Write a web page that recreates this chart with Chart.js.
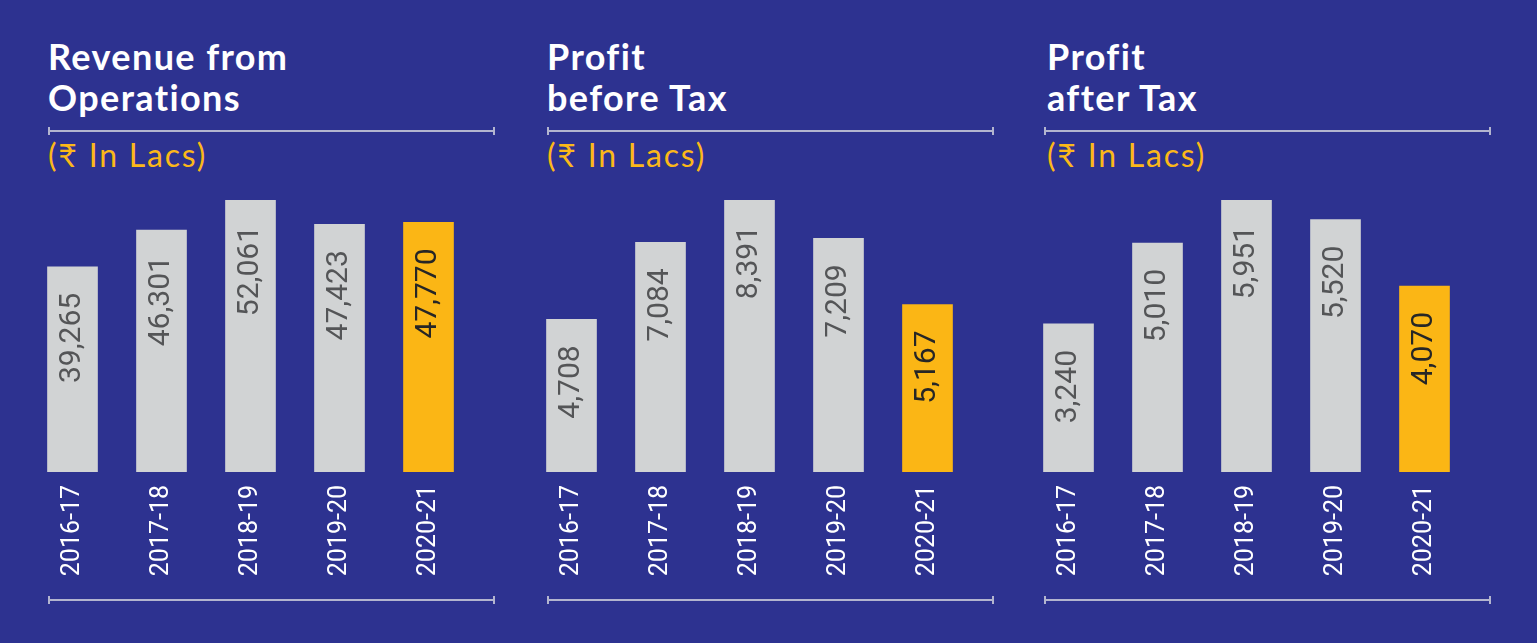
<!DOCTYPE html>
<html>
<head>
<meta charset="utf-8">
<script src="https://cdn.jsdelivr.net/npm/chart.js@4.4.1/dist/chart.umd.min.js"></script>
<style>
    html, body {
        margin: 0;
        padding: 0;
        background: #2d3290;
        width: 1537px;
        height: 643px;
        overflow: hidden;
    }
    .panel {
        position: absolute;
        top: 0;
        width: 499px;
        height: 643px;
    }
    .title {
        position: absolute;
        left: 48px;
        top: 36px;
        color: #fff;
        font-family: Lato, "DejaVu Sans", sans-serif;
        font-weight: bold;
        font-size: 36px;
        line-height: 41px;
        letter-spacing: 1.4px;
        white-space: nowrap;
    }
    .unit {
        position: absolute;
        left: 48px;
        top: 135px;
        color: #fbb819;
        font-family: Lato, "DejaVu Sans", sans-serif;
        font-size: 32px;
        letter-spacing: 1.8px;
        white-space: nowrap;
    }
    .rule {
        position: absolute;
        left: 48px;
        width: 443px;
        height: 8px;
        border-left: 2px solid #b3b5cf;
        border-right: 2px solid #b3b5cf;
    }
    .rule::after {
        content: "";
        position: absolute;
        left: 0;
        right: 0;
        top: 3px;
        height: 2px;
        background: #b3b5cf;
    }
    canvas {
        position: absolute;
        left: 28px;
        top: 190px;
    }
</style>
</head>
<body>
<div id="wrap"></div>
<script>
// data for the three charts
const years = ["2016-17", "2017-18", "2018-19", "2019-20", "2020-21"];
const revenue = [39265, 46301, 52061, 47423, 47770];
const profitBeforeTax = [4708, 7084, 8391, 7209, 5167];
const profitAfterTax = [3240, 5010, 5951, 5520, 4070];
const titles = [
    ["Revenue from", "Operations"],
    ["Profit", "before Tax"],
    ["Profit", "after Tax"],
];
const unitText = "(₹ In Lacs)";

const greyBar = "#d1d3d4";
const yellowBar = "#fbb615";

// draws the numbers rotated inside each bar, near the top
const barValues = {
    id: "barValues",
    afterDatasetsDraw(chart) {
        const ctx = chart.ctx;
        const meta = chart.getDatasetMeta(0);
        const vals = chart.data.datasets[0].data;
        meta.data.forEach((bar, i) => {
            ctx.save();
            ctx.translate(bar.x, bar.y + 26);
            ctx.rotate(-Math.PI / 2);
            ctx.textAlign = "right";
            ctx.textBaseline = "middle";
            ctx.font = "30px Roboto";
            ctx.fillStyle = i === vals.length - 1 ? "#262626" : "#545557";
            ctx.fillText(vals[i].toLocaleString("en-US"), 0, 0);
            ctx.restore();
        });
    },
};

function makePanel(idx, offset, values, textShift) {
    let panel = document.createElement("div");
    panel.className = "panel";
    panel.style.left = offset + "px";

    let t = document.createElement("div");
    t.className = "title";
    t.style.left = 48 + textShift + "px";
    t.innerHTML = titles[idx].join("<br>");
    panel.appendChild(t);

    let r1 = document.createElement("div");
    r1.className = "rule";
    r1.style.top = "127px";
    panel.appendChild(r1);

    let u = document.createElement("div");
    u.className = "unit";
    u.style.left = 48 + textShift + "px";
    u.textContent = unitText;
    panel.appendChild(u);

    let r2 = document.createElement("div");
    r2.className = "rule";
    r2.style.top = "596px";
    panel.appendChild(r2);

    let cv = document.createElement("canvas");
    cv.width = 445;
    cv.height = 430;
    cv.style.width = "445px";
    cv.style.height = "430px";
    panel.appendChild(cv);
    document.getElementById("wrap").appendChild(panel);

    new Chart(cv, {
        type: "bar",
        data: {
            labels: years,
            datasets: [
                {
                    data: values,
                    backgroundColor: values.map((v, i) => (i === values.length - 1 ? yellowBar : greyBar)),
                    barThickness: 50,
                },
            ],
        },
        options: {
            responsive: false,
            animation: false,
            layout: { padding: { top: 10, left: 0, right: 0, bottom: 0 } },
            plugins: { legend: { display: false }, tooltip: { enabled: false } },
            scales: {
                x: {
                    grid: { display: false, drawTicks: false },
                    border: { display: false },
                    ticks: {
                        color: "#ffffff",
                        font: { family: "Roboto", size: 25 },
                        minRotation: 90,
                        maxRotation: 90,
                        padding: 13,
                    },
                    afterFit: (scale) => {
                        scale.height = 148;
                    },
                },
                y: {
                    display: false,
                    min: 0,
                    max: Math.max(...values),
                },
            },
        },
        plugins: [barValues],
    });
}

makePanel(0, 0, revenue, 0);
makePanel(1, 499, profitBeforeTax, 0);
makePanel(2, 996, profitAfterTax, 3);
</script>
</body>
</html>
